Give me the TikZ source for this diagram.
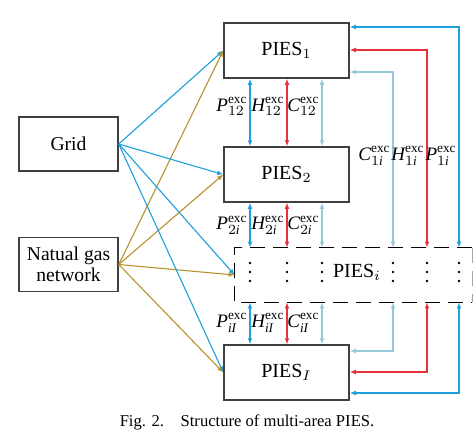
\documentclass[tikz,border=0pt]{standalone}
\usepackage{fontspec}
\setmainfont{Liberation Serif}
\usetikzlibrary{positioning, arrows.meta}
\definecolor{elec}{RGB}{30,160,220}
\definecolor{heat}{RGB}{230,50,60}
\definecolor{cool}{RGB}{150,200,220}
\definecolor{gasc}{RGB}{185,145,45}
\tikzstyle{flow} = [line width=0.55pt,{Latex[length=3pt,width=2.4pt]}-{Latex[length=3pt,width=2.4pt]}]
\tikzstyle{feed} = [line width=0.55pt,-{Latex[length=3pt,width=2.4pt]}]
\newcommand{\exch}[2]{$\mathit{#1}^{\mathrm{exc}}_{#2}$}

\begin{document}
\begin{tikzpicture}[x=0.5pt,y=-0.5pt,
    area/.style={draw=black!75, line width=0.75pt, minimum width=62.5pt, minimum height=27.5pt, inner sep=0pt, font=\fontsize{10}{12}\selectfont},
    src/.style={area, minimum width=49.5pt, minimum height=27pt, align=center, font=\fontsize{9.8}{10.4}\selectfont},
    lbl/.style={inner sep=0pt, text=black, font=\fontsize{9.5}{11}\selectfont},
    dashbox/.style={line width=0.7pt, dash pattern=on 7.5pt off 4pt}
  ]
  \useasboundingbox (0,0) rectangle (474,435);

  \node[area] (p1) at (286.5,50.5) {PIES$_1$};
  \node[area] (p2) at (286.5,174.5) {PIES$_2$};
  \node[area] (pI) at (286.5,372.5) {PIES$_I$};
  \node[minimum width=118.5pt, minimum height=27pt, inner sep=0pt] (pi) at (353.5,275) {};
  \node[font=\fontsize{10}{12}\selectfont] (pilbl) at (357,272) {PIES$_i$};

  \node[src] (grid) at (68.5,144) {Grid};
  \node[src] (gas) at (68.5,264.5) {Natual gas\\network};

  % dashed area i
  \draw[dashbox] (pi.north east) -- (pi.north west) -- (pi.south west) -- (pi.south east);
  \draw[dashbox, black!35] (pi.north east) -- (pi.south east);

  % supply from grid and gas network
  \foreach \t in {p1,p2,pi,pI} {
    \draw[feed, elec] (grid.east) -- (\t.west);
    \draw[feed, gasc] (gas.east) -- (\t.west);
  }

  % exchange between neighbours
  \foreach \x/\c/\q in {250/elec/P, 287/heat/H, 322/cool/C} {
    \coordinate (col\q) at (\x,0);
    \draw[flow, \c] (p1.south -| col\q) -- node[lbl, left=1pt, pos=0.41] (l\q a) {\exch{\q}{12}} (p2.north -| col\q);
    \draw[flow, \c] (p2.south -| col\q) -- node[lbl, left=1pt, pos=0.5] (l\q b) {\exch{\q}{2\mathit{i}}} (pi.north -| col\q);
    \draw[flow, \c] (pi.south -| col\q) -- node[lbl, left=1pt, pos=0.49] (l\q c) {\exch{\q}{\mathit{iI}}} (pI.north -| col\q);
    \foreach \d in {263,272,281} \fill (\x,\d) circle (0.7pt);
  }

  % exchange between area 1 and area i
  \foreach \x/\c/\q/\ya/\yb in {393/cool/C/72/351, 427/heat/H/50/372, 459/elec/P/27/393} {
    \coordinate (t\q) at (\x,\ya);
    \coordinate (b\q) at (\x,\yb);
    \draw[flow, \c] (p1.east |- t\q) -- (t\q) -- (t\q |- pi.north);
    \draw[flow, \c] (pI.east |- b\q) -- (b\q) -- (b\q |- pi.south);
    \node[lbl, anchor=east] (r\q) at ([xshift=-1pt]\x,156) {\exch{\q}{1\mathit{i}}};
    \foreach \d in {263,272,281} \fill (\x,\d) circle (0.7pt);
  }

  \node[font=\fontsize{8.3}{10}\selectfont] (cap) at (247,422) {Fig. 2.\quad Structure of multi-area PIES.};

\end{tikzpicture}
\end{document}
